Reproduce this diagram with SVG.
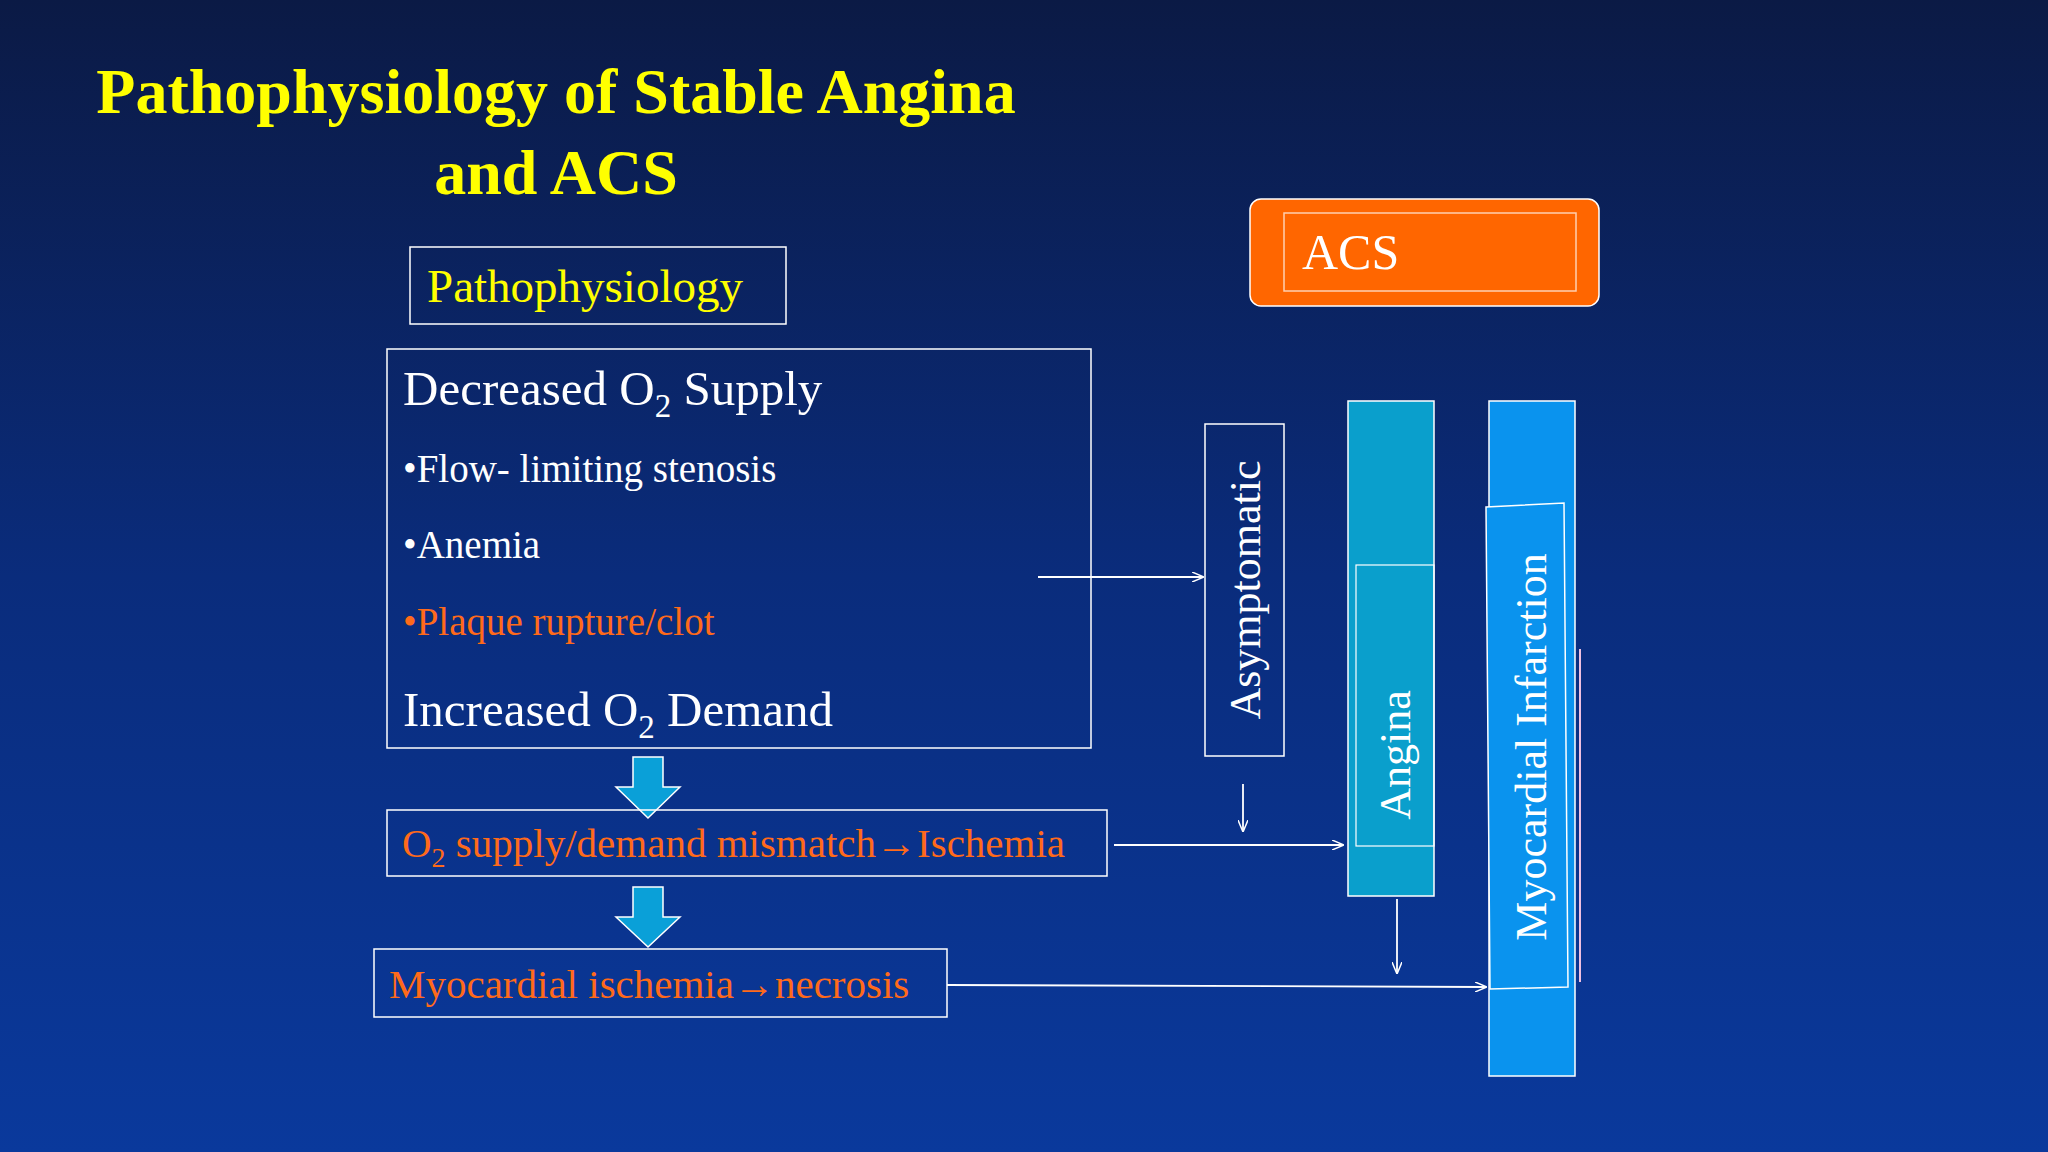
<svg xmlns="http://www.w3.org/2000/svg" width="2048" height="1152" viewBox="0 0 2048 1152">
<defs>
<linearGradient id="bg" x1="0" y1="0" x2="0" y2="1">
<stop offset="0" stop-color="#0b1a45"/><stop offset="0.5" stop-color="#0a2c7c"/><stop offset="1" stop-color="#0a399c"/>
</linearGradient>
<marker id="ah" markerWidth="12" markerHeight="10" refX="11" refY="5" orient="auto" markerUnits="userSpaceOnUse">
<path d="M0,0 L12,5 L0,10" fill="none" stroke="#fff" stroke-width="1.5"/>
</marker>
<style>
text{font-family:"Liberation Serif","Times New Roman",serif}
.t{fill:#ffff00;font-weight:bold;font-size:64px}
.w{fill:#fff}
.o{fill:#ff6a1a}
.box{fill:none;stroke:#fff;stroke-width:1.5}
.c{stroke:#fff;stroke-width:1.8;fill:none;marker-end:url(#ah)}
.fat{fill:#0aa0d8;stroke:#fff;stroke-width:1.5}
</style>
</defs>
<rect width="2048" height="1152" fill="url(#bg)"/>
<g id="title">
<text class="t" x="556" y="113" text-anchor="middle">Pathophysiology of Stable Angina</text>
<text class="t" x="556" y="194" text-anchor="middle">and ACS</text>
</g>
<g id="patho">
<rect class="box" x="410" y="247" width="376" height="77"/>
<text x="427" y="302" font-size="47" fill="#ffff00">Pathophysiology</text>
</g>
<g id="causes">
<rect class="box" x="387" y="349" width="704" height="399"/>
<text class="w" x="403" y="405" font-size="49">Decreased O<tspan font-size="33" dy="12">2</tspan><tspan dy="-12"> Supply</tspan></text>
<text class="w" x="403" y="482" font-size="39">•Flow- limiting stenosis</text>
<text class="w" x="403" y="558" font-size="39">•Anemia</text>
<text class="o" x="403" y="635" font-size="39">•Plaque rupture/clot</text>
<text class="w" x="403" y="726" font-size="49">Increased O<tspan font-size="33" dy="12">2</tspan><tspan dy="-12"> Demand</tspan></text>
</g>
<g id="arrow1"><path class="fat" d="M633,757 H663 V787 H680 L648,818 L616,787 H633 Z"/></g>
<g id="mismatch">
<rect class="box" x="387" y="810" width="720" height="66"/>
<text class="o" x="402" y="857" font-size="41">O<tspan font-size="28" dy="10">2</tspan><tspan dy="-10"> supply/demand mismatch→Ischemia</tspan></text>
</g>
<g id="arrow2"><path class="fat" d="M633,887 H663 V917 H680 L648,947 L616,917 H633 Z"/></g>
<g id="necrosis">
<rect class="box" x="374" y="949" width="573" height="68"/>
<text class="o" x="389" y="998" font-size="41">Myocardial ischemia→necrosis</text>
</g>
<g id="acs">
<rect x="1250" y="199" width="349" height="107" rx="11" fill="#ff6600" stroke="#fff" stroke-width="1.5"/>
<rect x="1284" y="213" width="292" height="78" fill="none" stroke="#ffd0b0" stroke-width="1.5"/>
<text class="w" x="1302" y="269" font-size="50">ACS</text>
</g>
<g id="asymptomatic">
<rect class="box" x="1205" y="424" width="79" height="332"/>
<text class="w" font-size="44" text-anchor="middle" transform="translate(1260,590) rotate(-90)">Asymptomatic</text>
</g>
<g id="angina">
<rect x="1348" y="401" width="86" height="495" fill="#0a9fcc" stroke="#fff" stroke-width="1.5"/>
<rect x="1356" y="565" width="78" height="281" fill="none" stroke="#fff" stroke-width="1.2"/>
<text class="w" font-size="44" text-anchor="middle" transform="translate(1410,755) rotate(-90)">Angina</text>
</g>
<g id="mi">
<rect x="1489" y="401" width="86" height="675" fill="#0a93ee" stroke="#fff" stroke-width="1.5"/>
<line x1="1580" y1="649" x2="1580" y2="982" stroke="#f0c0e0" stroke-width="2"/>
<polygon points="1486,507 1564,503 1568,987 1490,989" fill="#0a93ee" stroke="#fff" stroke-width="1.5"/>
<text class="w" font-size="44" text-anchor="middle" transform="translate(1546,747) rotate(-90)">Myocardial Infarction</text>
</g>
<g id="connectors">
<line class="c" x1="1038" y1="577" x2="1203" y2="577"/>
<line class="c" x1="1243" y1="784" x2="1243" y2="831"/>
<line class="c" x1="1114" y1="845" x2="1343" y2="845"/>
<line class="c" x1="1397" y1="899" x2="1397" y2="973"/>
<line class="c" x1="947" y1="985" x2="1486" y2="987"/>
</g>
</svg>
